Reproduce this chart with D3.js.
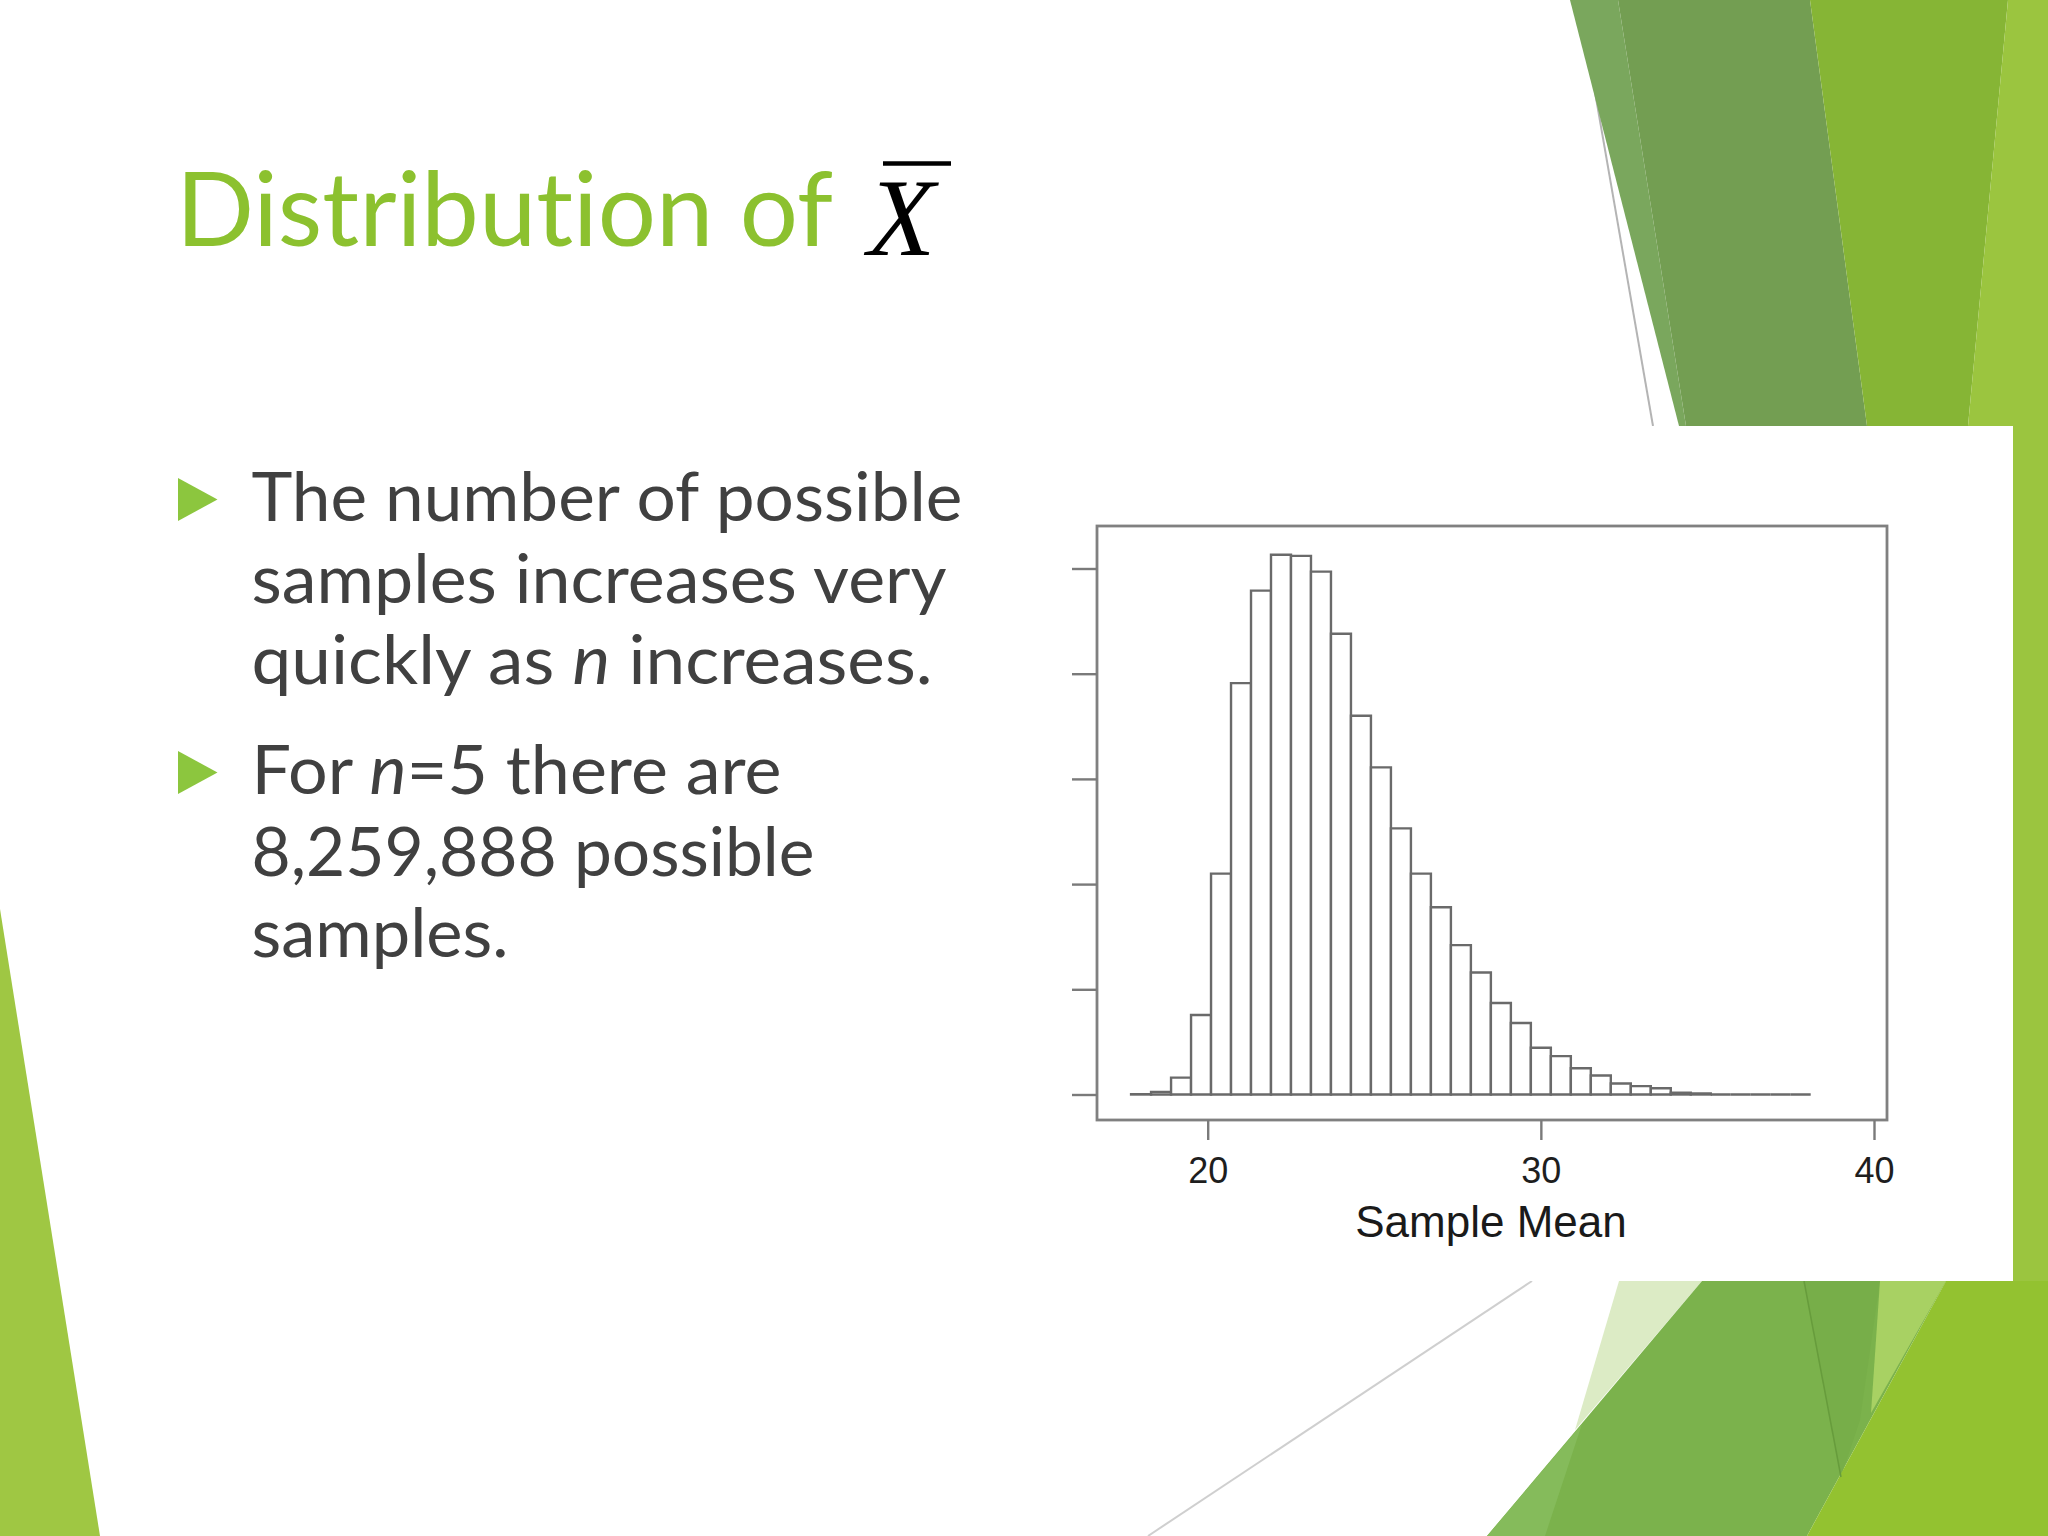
<!DOCTYPE html>
<html>
<head>
<meta charset="utf-8">
<script src="https://cdn.jsdelivr.net/npm/d3@7"></script>
<style>
  html, body { margin: 0; padding: 0; background: #fff; }
  svg { display: block; }
  text { font-variant-ligatures: none; font-feature-settings: "liga" 0, "clig" 0; }
</style>
</head>
<body>
<div id="slide"></div>
<script>
// ---- data ----
const binStart = 17.7;
const binWidth = 0.6;
// bar heights in y-tick units (the axis carries no labels)
const binHeights = [
  0.003, 0.025, 0.16, 0.755, 2.10, 3.91, 4.79, 5.13, 5.12, 4.97,
  4.38, 3.60, 3.11, 2.53, 2.10, 1.78, 1.42, 1.16, 0.87, 0.68,
  0.445, 0.365, 0.25, 0.18, 0.105, 0.08, 0.06, 0.017, 0.01, 0,
  0, 0, 0, 0
];
const xTickValues = [20, 30, 40];
const yTickValues = [0, 1, 2, 3, 4, 5];
const xLabel = "Sample Mean";
const titleText = "Distribution of";
const titleSymbol = "X";
// *...* marks italic
const bullets = [
  ["The number of possible", "samples increases very", "quickly as *n* increases."],
  ["For *n*=5 there are", "8,259,888 possible", "samples."]
];

const width = 2048, height = 1536;

const svg = d3.select("#slide")
  .append("svg")
    .attr("width", width)
    .attr("height", height)
    .attr("viewBox", [0, 0, width, height]);

// ---- slide decoration (theme shapes) ----
const decorLines = [
  { p: [[1579, 0], [1653, 426]], c: "#b4b4b4" },
  { p: [[1532, 1281], [1148, 1536]], c: "#cfcfcf" }
];
const decorShapes = [
  { p: [[1570, 0], [1618, 0], [1686, 426], [1679, 426]], c: "#7aa75d" },
  { p: [[1618, 0], [1810, 0], [1867, 426], [1686, 426]], c: "#739e52" },
  { p: [[1810, 0], [2008, 0], [1968, 426], [1867, 426]], c: "#86b535" },
  { p: [[2008, 0], [2048, 0], [2048, 1281], [2013, 1281], [2013, 426], [1968, 426]], c: "#9bc53f" },
  { p: [[0, 909], [0, 1536], [100, 1536]], c: "#9fc743" },
  { p: [[1619, 1281], [1702, 1281], [1575, 1430]], c: "#dcebc5" },
  { p: [[1702, 1281], [1946, 1281], [1807, 1536], [1487, 1536]], c: "#7bb24c" },
  { p: [[1582, 1424], [1487, 1536], [1545, 1536]], c: "#85bb5b" },
  { p: [[1804, 1281], [1880, 1281], [1860, 1420], [1841, 1477]], c: "#77ae49" },
  { p: [[1880, 1281], [1946, 1281], [1871, 1413]], c: "#a8d163" },
  { p: [[1946, 1281], [2048, 1281], [2048, 1536], [1807, 1536]], c: "#93c230" }
];

const decor = svg.append("g").attr("class", "decor");
decor.selectAll("line.first")
  .data(decorLines.slice(0, 1))
  .join("line")
    .attr("x1", d => d.p[0][0]).attr("y1", d => d.p[0][1])
    .attr("x2", d => d.p[1][0]).attr("y2", d => d.p[1][1])
    .attr("stroke", d => d.c)
    .attr("stroke-width", 2);
decor.selectAll("polygon")
  .data(decorShapes)
  .join("polygon")
    .attr("points", d => d.p.map(q => q.join(",")).join(" "))
    .attr("fill", d => d.c);
decor.append("line")
  .attr("x1", 1804).attr("y1", 1281).attr("x2", 1841).attr("y2", 1477)
  .attr("stroke", "#679c3c").attr("stroke-width", 1.5);
decor.selectAll("line.second")
  .data(decorLines.slice(1))
  .join("line")
    .attr("x1", d => d.p[0][0]).attr("y1", d => d.p[0][1])
    .attr("x2", d => d.p[1][0]).attr("y2", d => d.p[1][1])
    .attr("stroke", d => d.c)
    .attr("stroke-width", 2);

// white picture panel holding the histogram
svg.append("rect")
  .attr("x", 1040).attr("y", 426)
  .attr("width", 2013 - 1040).attr("height", 1281 - 426)
  .attr("fill", "#fff");

// ---- histogram ----
const plot = { left: 1097, right: 1887, top: 526, bottom: 1120 };

const xScale = d3.scaleLinear()
  .domain([20, 40])
  .range([1207.7, 1874]);
const yScale = d3.scaleLinear()
  .domain([0, 5])
  .range([1094.5, 568.5]);

const bins = binHeights.map((h, i) => ({
  x0: binStart + i * binWidth,
  x1: binStart + (i + 1) * binWidth,
  h: h
}));

const chart = svg.append("g").attr("class", "chart");

chart.selectAll(".bar")
  .data(bins)
  .join("path")
    .attr("class", "bar")
    .attr("d", d => `M${xScale(d.x0)},${yScale(0)}V${yScale(d.h)}H${xScale(d.x1)}V${yScale(0)}Z`)
    .attr("fill", "#fff")
    .attr("stroke", "#6a6a6a")
    .attr("stroke-width", 2.4);

chart.append("rect")
  .attr("x", plot.left).attr("y", plot.top)
  .attr("width", plot.right - plot.left)
  .attr("height", plot.bottom - plot.top)
  .attr("fill", "none")
  .attr("stroke", "#808080")
  .attr("stroke-width", 2.8);

const leftAxis = d3.axisLeft(yScale)
  .tickValues(yTickValues)
  .tickSize(25)
  .tickFormat("");
chart.append("g")
    .attr("class", "axis axis-y")
    .attr("transform", `translate(${plot.left}, 0)`)
    .call(leftAxis)
  .call(g => g.select(".domain").remove())
  .call(g => g.selectAll(".tick line").attr("stroke", "#7a7a7a").attr("stroke-width", 2.4));

const bottomAxis = d3.axisBottom(xScale)
  .tickValues(xTickValues)
  .tickSize(20);
chart.append("g")
    .attr("class", "axis axis-x")
    .attr("transform", `translate(0, ${plot.bottom})`)
    .call(bottomAxis)
  .call(g => g.select(".domain").remove())
  .call(g => g.selectAll(".tick line").attr("stroke", "#7a7a7a").attr("stroke-width", 2.4))
  .call(g => g.selectAll(".tick text")
    .attr("y", 63)
    .attr("dy", 0)
    .attr("fill", "#1e1e1e")
    .attr("font-family", "'Liberation Sans', Arial, sans-serif")
    .attr("font-size", 36));

chart.append("text")
  .attr("x", 1491)
  .attr("y", 1237)
  .attr("text-anchor", "middle")
  .attr("font-family", "'Liberation Sans', Arial, sans-serif")
  .attr("font-size", 44)
  .attr("fill", "#1a1a1a")
  .text(xLabel);

// ---- title ----
svg.append("text")
  .attr("x", 176)
  .attr("y", 246)
  .attr("font-family", "Lato, 'Open Sans', sans-serif")
  .attr("font-size", 103)
  .attr("fill", "#8cc12f")
  .attr("textLength", 657)
  .attr("lengthAdjust", "spacingAndGlyphs")
  .text(titleText);

const sym = svg.append("text")
  .attr("x", 866)
  .attr("y", 255)
  .attr("font-family", "'Liberation Serif', 'Times New Roman', serif")
  .attr("font-style", "italic")
  .attr("font-size", 111)
  .attr("fill", "#000")
  .text(titleSymbol);
const sb = sym.node().getBBox();
sym.attr("x", 866 + (863.5 - sb.x));
svg.append("line")
  .attr("x1", 883).attr("x2", 951)
  .attr("y1", 163.5).attr("y2", 163.5)
  .attr("stroke", "#000")
  .attr("stroke-width", 4.5);

// ---- bullets ----
const bulletTops = [521, 794];
const lineGap = 81.5;
const lineLengths = [[711, 695, 681], [530, 563, 257]];

bullets.forEach((lines, bi) => {
  const base = bulletTops[bi];
  svg.append("polygon")
    .attr("points", [[178, base - 43], [217.5, base - 21.5], [178, base]].map(q => q.join(",")).join(" "))
    .attr("fill", "#8cc63e");

  lines.forEach((line, li) => {
    const t = svg.append("text")
      .attr("x", 251.5)
      .attr("y", base + li * lineGap)
      .attr("font-family", "Lato, 'Open Sans', sans-serif")
      .attr("font-size", 68)
      .attr("fill", "#404040")
      .attr("textLength", lineLengths[bi][li])
      .attr("lengthAdjust", "spacingAndGlyphs");
    line.split("*").forEach((part, k) => {
      if (!part) return;
      t.append("tspan")
        .attr("font-style", k % 2 ? "italic" : "normal")
        .text(part);
    });
  });
});
</script>
</body>
</html>
